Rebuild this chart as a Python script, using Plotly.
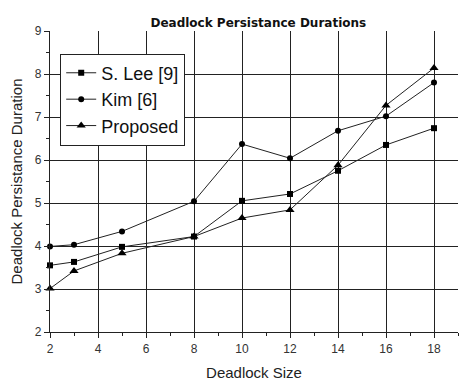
import plotly.graph_objects as go

deadlock_size = [2, 3, 5, 8, 10, 12, 14, 16, 18]
lee = [3.55, 3.63, 3.98, 4.22, 5.05, 5.21, 5.75, 6.35, 6.74]
kim = [3.99, 4.03, 4.34, 5.04, 6.37, 6.04, 6.68, 7.02, 7.80]
proposed = [3.01, 3.42, 3.83, 4.22, 4.65, 4.84, 5.88, 7.27, 8.14]
series_names = ["S. Lee [9]", "Kim [6]", "Proposed"]

fig = go.Figure()
for name, vals, sym, sz in zip(series_names, [lee, kim, proposed],
                               ["square", "circle", "triangle-up"], [6, 6, 8]):
    fig.add_trace(go.Scatter(
        x=deadlock_size, y=vals, mode="lines+markers", name=name,
        line=dict(color="#222222", width=1),
        marker=dict(symbol=sym, size=sz, color="black"),
        cliponaxis=False,
    ))

fig.update_layout(
    width=474, height=387,
    margin=dict(l=50, r=16, t=31, b=55),
    paper_bgcolor="white", plot_bgcolor="white",
    font=dict(family="Arial, Liberation Sans, sans-serif", color="#222"),
    title=dict(text="<b>Deadlock Persistance Durations</b>", x=0.545, xanchor="center",
               y=0.942, yanchor="middle",
               font=dict(size=12, color="#111", family="DejaVu Sans")),
    showlegend=True,
    legend=dict(x=0.025, y=0.925, xanchor="left", yanchor="top",
                bgcolor="white", bordercolor="#222", borderwidth=1,
                font=dict(size=18, color="#111"), tracegroupgap=0,
                itemwidth=30, entrywidth=140),
)
fig.update_xaxes(
    range=[2, 19], tickvals=[2, 4, 6, 8, 10, 12, 14, 16, 18], automargin=False,
    ticks="outside", ticklen=5, tickcolor="#222", tickfont=dict(size=12, color="#333"),
    showgrid=True, gridcolor="#222", gridwidth=1.3,
    showline=True, linecolor="#222", linewidth=1.3, zeroline=False,
    minor=dict(tickvals=[3, 5, 7, 9, 11, 13, 15, 17, 19], ticks="outside", ticklen=3,
               tickcolor="#222", showgrid=False),
    title=dict(text="Deadlock Size", font=dict(size=15, color="#222"), standoff=12),
)
fig.update_yaxes(
    range=[2, 9], tickvals=[2, 3, 4, 5, 6, 7, 8, 9], automargin=False,
    ticks="outside", ticklen=5, tickcolor="#222", tickfont=dict(size=12, color="#333"),
    showgrid=True, gridcolor="#222", gridwidth=1.3,
    showline=True, linecolor="#222", linewidth=1.3, zeroline=False,
    minor=dict(tickvals=[2.5, 3.5, 4.5, 5.5, 6.5, 7.5, 8.5], ticks="outside", ticklen=3,
               tickcolor="#222", showgrid=False),
    title=dict(text="Deadlock Persistance Duration", font=dict(size=15, color="#222"), standoff=8),
)

fig.write_html("out.html", config={"displayModeBar": False},
               post_script="document.body.style.margin='0';")
